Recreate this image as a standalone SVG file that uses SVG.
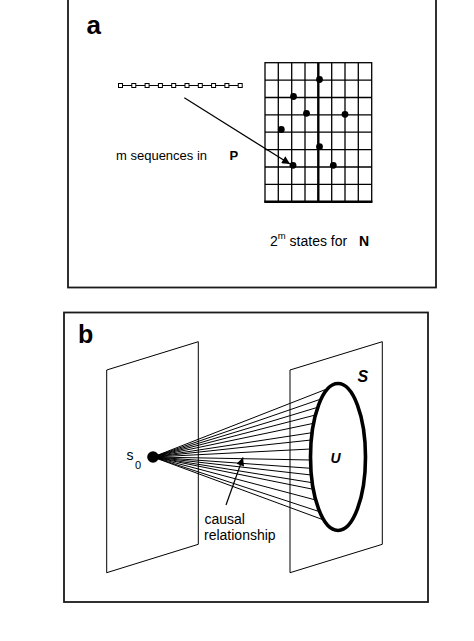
<svg xmlns="http://www.w3.org/2000/svg" width="474" height="641" viewBox="0 0 474 641">
<style>
.frame{fill:none;stroke:#1a1a1a;stroke-width:1.8}
.thin{fill:none;stroke:#000;stroke-width:1}
.grid{fill:none;stroke:#000;stroke-width:1.3}
.txt{font-family:"Liberation Sans",Arial,sans-serif;fill:#000}
.dot{fill:#000}
</style>
<defs>
<marker id="ah" viewBox="0 0 10 10" refX="10" refY="5" markerWidth="10" markerHeight="8" markerUnits="userSpaceOnUse" orient="auto">
<path d="M0,0 L10,5 L0,10 Z" fill="#000"/>
</marker>
</defs>
<rect width="474" height="641" fill="#fff"/>

<g id="panel-a">
<rect class="frame" x="68" y="-10" width="368" height="297.5"/>
<text class="txt" x="86.5" y="33.5" font-size="26" font-weight="bold">a</text>
</g>

<g id="sequences">
<line class="thin" x1="120.5" y1="85.5" x2="240" y2="85.5"/>
<g fill="#fff" stroke="#000" stroke-width="1">
<rect x="118.5" y="83.5" width="4" height="4"/>
<rect x="131.8" y="83.5" width="4" height="4"/>
<rect x="145.1" y="83.5" width="4" height="4"/>
<rect x="158.4" y="83.5" width="4" height="4"/>
<rect x="171.7" y="83.5" width="4" height="4"/>
<rect x="185" y="83.5" width="4" height="4"/>
<rect x="198.3" y="83.5" width="4" height="4"/>
<rect x="211.6" y="83.5" width="4" height="4"/>
<rect x="224.9" y="83.5" width="4" height="4"/>
<rect x="238.2" y="83.5" width="4" height="4"/>
</g>
<text class="txt" x="116" y="159.5" font-size="13">m sequences in</text>
<text class="txt" x="229.5" y="159.5" font-size="13" font-weight="bold">P</text>
</g>

<g id="states-grid">
<rect class="grid" x="265" y="62.7" width="106.7" height="139"/>
<g class="grid">
<line x1="278.3" y1="62.7" x2="278.3" y2="201.7"/>
<line x1="291.7" y1="62.7" x2="291.7" y2="201.7"/>
<line x1="305" y1="62.7" x2="305" y2="201.7"/>
<line x1="331.7" y1="62.7" x2="331.7" y2="201.7"/>
<line x1="345" y1="62.7" x2="345" y2="201.7"/>
<line x1="358.3" y1="62.7" x2="358.3" y2="201.7"/>
<line x1="265" y1="80.1" x2="371.7" y2="80.1"/>
<line x1="265" y1="97.5" x2="371.7" y2="97.5"/>
<line x1="265" y1="114.8" x2="371.7" y2="114.8"/>
<line x1="265" y1="132.2" x2="371.7" y2="132.2"/>
<line x1="265" y1="149.6" x2="371.7" y2="149.6"/>
<line x1="265" y1="167" x2="371.7" y2="167"/>
<line x1="265" y1="184.3" x2="371.7" y2="184.3"/>
</g>
<line x1="318.3" y1="62.7" x2="318.3" y2="201.7" stroke="#000" stroke-width="2.4"/>
<line x1="264.3" y1="201.7" x2="372.4" y2="201.7" stroke="#000" stroke-width="2.4"/>
<g class="dot">
<circle cx="319.5" cy="79.5" r="3.4"/>
<circle cx="293.5" cy="96.5" r="3.4"/>
<circle cx="306.5" cy="113.3" r="3.4"/>
<circle cx="345" cy="114.3" r="3.4"/>
<circle cx="281.3" cy="129.5" r="3.4"/>
<circle cx="319.5" cy="146.7" r="3.4"/>
<circle cx="293" cy="165.3" r="3.4"/>
<circle cx="333.3" cy="165.3" r="3.4"/>
</g>
<text class="txt" x="270" y="245.5" font-size="14">2<tspan dy="-6.5" font-size="9.5">m</tspan><tspan dy="6.5"> states for</tspan></text>
<text class="txt" x="359" y="245.5" font-size="14" font-weight="bold">N</text>
</g>

<g id="connectors">
<line x1="184.3" y1="97.7" x2="290" y2="164" stroke="#000" stroke-width="1.2" marker-end="url(#ah)"/>
</g>

<g id="panel-b">
<rect class="frame" x="64" y="312.5" width="364" height="289.5"/>
<text class="txt" x="78" y="342.5" font-size="25" font-weight="bold">b</text>
</g>

<g id="plane-left">
<polygon class="thin" points="106.7,370 198.3,341.7 198.3,544.3 106.7,572.7"/>
</g>

<g id="plane-right">
<polygon class="thin" points="290,370 382.3,341.7 382.3,544.3 290,572.7"/>
<text class="txt" x="357.5" y="381.7" font-size="16" font-weight="bold" font-style="italic">S</text>
</g>

<g id="fan">
<g stroke="#000" stroke-width="1" fill="none">
<line x1="153" y1="457" x2="325.5" y2="389.5"/>
<line x1="153" y1="457" x2="321.1" y2="399"/>
<line x1="153" y1="457" x2="317.7" y2="407.3"/>
<line x1="153" y1="457" x2="315.4" y2="415"/>
<line x1="153" y1="457" x2="313.6" y2="423.3"/>
<line x1="153" y1="457" x2="312" y2="432.7"/>
<line x1="153" y1="457" x2="311.2" y2="440"/>
<line x1="153" y1="457" x2="310.7" y2="449"/>
<line x1="153" y1="457" x2="310.5" y2="460"/>
<line x1="153" y1="457" x2="310.8" y2="468.3"/>
<line x1="153" y1="457" x2="311.3" y2="475"/>
<line x1="153" y1="457" x2="312.2" y2="482.7"/>
<line x1="153" y1="457" x2="313.3" y2="489.3"/>
<line x1="153" y1="457" x2="315.7" y2="500"/>
<line x1="153" y1="457" x2="319.6" y2="511.7"/>
<line x1="153" y1="457" x2="323.8" y2="520"/>
</g>
<line x1="226" y1="505" x2="243" y2="457.5" stroke="#000" stroke-width="1.2" marker-end="url(#ah)"/>
<text class="txt" x="204.5" y="523.5" font-size="14">causal</text>
<text class="txt" x="204" y="540" font-size="14">relationship</text>
</g>

<g id="s0">
<circle cx="153" cy="457" r="5.8" fill="#000"/>
<text class="txt" x="126.5" y="460" font-size="14">s</text>
<text class="txt" x="135" y="468.5" font-size="11">0</text>
</g>

<g id="U">
<ellipse cx="338" cy="457" rx="27.5" ry="73.5" fill="none" stroke="#000" stroke-width="3.6"/>
<text class="txt" x="330.5" y="462.5" font-size="14" font-weight="bold" font-style="italic">U</text>
</g>
</svg>
